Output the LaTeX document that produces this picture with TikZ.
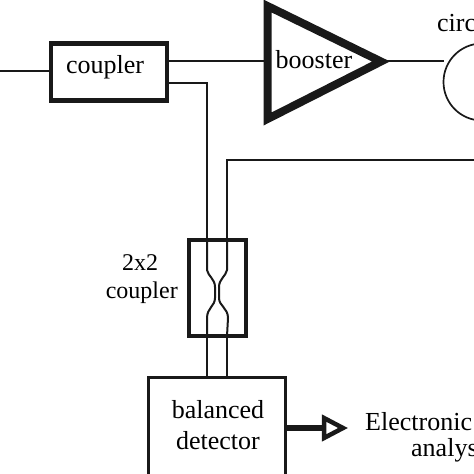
\documentclass[tikz,border=0pt]{standalone}
\usepackage{fontspec}
\setmainfont{Liberation Serif}
\usetikzlibrary{calc}
\tikzset{
  thin line/.style={line width=1.7pt,black!90},
  box/.style={draw=black!90,line width=4.5pt,fill=none,outer sep=0pt,inner sep=0pt,rectangle,anchor=north west},
  lbl/.style={inner sep=0pt,font=\fontsize{26}{28}\selectfont,align=center,text=black},
}
\begin{document}
\begin{tikzpicture}[x=1pt,y=-1pt]
\useasboundingbox (0,0) rectangle (474,474);
\clip (0,0) rectangle (474,474);
% free ends / bend points
\coordinate (inL) at (0,71);
\coordinate (cIn) at (51,71);
\coordinate (cOutA) at (167,61);
\coordinate (cOutB) at (167,83);
\coordinate (bend1) at (207,83);
\coordinate (bIn) at (266,61);
\coordinate (bOut) at (386,61);
\coordinate (cirIn) at (444,61);
\coordinate (farR) at (474,160);
\coordinate (bend2) at (227,160);
\coordinate (xTopL) at (207,238);
\coordinate (xTopR) at (227,238);
\coordinate (xBotL) at (207,336);
\coordinate (xBotR) at (227,336);
\coordinate (dTopL) at (207,376);
\coordinate (dTopR) at (227,376);
\coordinate (dOut) at (286,428);
\coordinate (arrEnd) at (324,428);
% nodes
\node[box,minimum width=116pt,minimum height=57pt] (coupler) at (51,43.5) {};
\node[lbl] (couplerT) at (105,67) {coupler};
\node[lbl] (boosterT) at (314,60) {booster};
\draw[line width=8pt,black!90,miter limit=10] (267.5,6) -- (381,61.5) -- (267.5,119) -- cycle;
\draw[line width=1.7pt,black!90] (482,82) circle (38.5);
\node[lbl,anchor=west] (circ) at (437,23) {circ};
\node[box,line width=4pt,minimum width=57pt,minimum height=96pt] (xc) at (188.5,239.5) {};
\node[lbl,font=\fontsize{24}{28}\selectfont] (xcT1) at (140,263) {2x2};
\node[lbl,font=\fontsize{24}{28}\selectfont,anchor=east] (xcT2) at (178,293) {coupler};
\node[box,line width=3.5pt,minimum width=137pt,minimum height=140pt] (det) at (148.5,377.5) {};
\node[lbl] (detT1) at (218,410) {balanced};
\node[lbl] (detT2) at (218,441) {detector};
\node[lbl,anchor=west] (elec) at (365,422) {Electronic};
\node[lbl,anchor=west] (anal) at (411,450) {analys};
% connectors
\draw[thin line] (inL) -- (cIn);
\draw[thin line] (cOutA) -- (bIn);
\draw[thin line] (cOutB) -- (bend1) -- (xTopL);
\draw[thin line] (bOut) -- (cirIn);
\draw[thin line] (farR) -- (bend2) -- (xTopR);
\draw[thin line] (xBotL) -- (dTopL);
\draw[thin line] (xBotR) -- (dTopR);
% waveguides inside the 2x2 coupler
\draw[line width=2pt,black!90] (xTopL) -- (207,270) .. controls (208,276) and (215,279) .. (215,287) -- (215,298) .. controls (215,306) and (207,308) .. (207,318) -- (xBotL);
\draw[line width=2pt,black!90] (xTopR) -- (227,270) .. controls (226,276) and (219,279) .. (219,287) -- (219,298) .. controls (219,306) and (228,308) .. (228,318) -- (xBotR);
% output arrow
\draw[line width=5.5pt,black!90] (dOut) -- (arrEnd);
\draw[line width=4.5pt,black!90,miter limit=10] (324,418) -- (343,428) -- (324,438) -- cycle;
\end{tikzpicture}
\end{document}
